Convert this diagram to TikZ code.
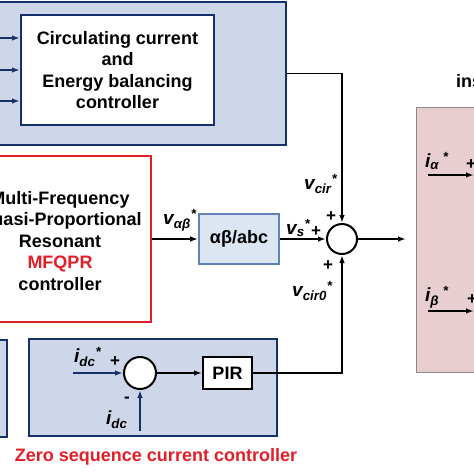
\documentclass[tikz,border=0pt]{standalone}
\usepackage{fontspec}
\setmainfont{Liberation Sans}
\usetikzlibrary{arrows.meta}
\definecolor{navy}{RGB}{22,48,105}
\definecolor{topfill}{RGB}{206,215,233}
\definecolor{abcfill}{RGB}{220,230,243}
\definecolor{abcline}{RGB}{95,130,185}
\definecolor{pinkfill}{RGB}{232,206,209}
\definecolor{pinkline}{RGB}{140,135,135}
\definecolor{redc}{RGB}{226,30,40}
\tikzset{
  outerbox/.style={draw=navy, fill=topfill, line width=2pt, inner sep=0pt},
  whitebox/.style={draw=navy, fill=white, line width=2pt, inner sep=0pt},
  redbox/.style={draw=redc, fill=white, line width=2pt, inner sep=0pt},
  abcbox/.style={draw=abcline, fill=abcfill, line width=1.6pt, inner sep=0pt},
  pirbox/.style={draw=black, fill=white, line width=1.8pt, inner sep=0pt},
  pinkbox/.style={draw=pinkline, fill=pinkfill, line width=1pt, inner sep=0pt},
  sumc/.style={circle, draw=black, fill=white, line width=2pt, inner sep=0pt},
  blk/.style={draw=black, line width=1.8pt, -{Latex[length=8pt,width=5.5pt]}},
  nav/.style={draw=navy, line width=2pt, -{Latex[length=8pt,width=5.5pt]}},
  lbl/.style={inner sep=0pt, anchor=west, font=\bfseries\itshape\fontsize{19}{19}\selectfont},
  sgn/.style={inner sep=0pt, font=\bfseries\fontsize{17}{17}\selectfont},
  btext/.style={inner sep=0pt, align=center, font=\bfseries\fontsize{18}{21.5}\selectfont},
}
\begin{document}
\begin{tikzpicture}[x=1pt,y=-1pt]
\useasboundingbox (0,0) rectangle (474,474);

% top controller
\node[outerbox, minimum width=296pt, minimum height=143pt] (top) at (138,73.5) {};
\node[whitebox, minimum width=193pt, minimum height=110pt] (circ) at (117.5,70) {};
\node[btext] (circt) at (117.5,70) {Circulating current\\and\\Energy balancing\\controller};
\coordinate (in1) at (-2,38);
\coordinate (in2) at (-2,70);
\coordinate (in3) at (-2,101);
\draw[nav] (in1) -- (in1 -| circ.west);
\draw[nav] (in2) -- (in2 -| circ.west);
\draw[nav] (in3) -- (in3 -| circ.west);

% MFQPR
\node[redbox, minimum width=161pt, minimum height=166pt] (mfq) at (70.5,239) {};
\node[btext] (mfqt) at (60,241) {Multi-Frequency\\Quasi-Proportional\\Resonant\\\textcolor{redc}{MFQPR}\\controller};

% alpha beta / abc
\node[abcbox, minimum width=80pt, minimum height=50pt, font=\bfseries\fontsize{18}{18}\selectfont] (abc) at (239,239) {αβ/abc};
\draw[blk] (mfq.east) -- (abc.west);
\node[lbl] (lvab) at (163,220) {v\textsubscript{αβ}\textsuperscript{*}};

% summing junction
\node[sumc, minimum size=30pt] (sum) at (342,239) {};
\draw[blk] (top.east) -| (sum.north);
\draw[blk] (abc.east) -- (sum.west);
\coordinate (out) at (406,239);
\draw[blk] (sum.east) -- (out);
\node[lbl] (lvcir) at (304,184) {v\textsubscript{cir}\textsuperscript{*}};
\node[sgn] (p1) at (331,217) {+};
\node[lbl] (lvs) at (286,228) {v\textsubscript{s}\textsuperscript{*}};
\node[sgn] (p2) at (316,232) {+};
\node[sgn] (p3) at (328,266) {+};
\node[lbl] (lvcir0) at (292,291) {v\textsubscript{cir0}\textsuperscript{*}};

% pink box
\node[pinkbox, minimum width=80pt, minimum height=265pt] (pink) at (456,239.5) {};
\node[anchor=base west, inner sep=0pt, font=\bfseries\fontsize{18}{18}\selectfont] (ins) at (456,87) {ins};
\coordinate (ia0) at (428,175);
\coordinate (ia1) at (474,175);
\draw[blk] (ia0) -- (ia1);
\node[lbl] (lia) at (425,161) {i\textsubscript{α}\textsuperscript{ *}};
\node[sgn] (p4) at (471,165) {+};
\coordinate (ib0) at (428,311);
\coordinate (ib1) at (474,311);
\draw[blk] (ib0) -- (ib1);
\node[lbl] (lib) at (425,297) {i\textsubscript{β}\textsuperscript{ *}};
\node[sgn] (p5) at (472,300) {+};

% bottom
\node[outerbox, minimum width=17pt, minimum height=97pt] (leftb) at (-1.5,388.5) {};
\node[outerbox, minimum width=248pt, minimum height=97pt] (zero) at (153,387.5) {};
\node[sumc, minimum size=32pt] (sum2) at (140,373) {};
\node[pirbox, minimum width=49pt, minimum height=32pt, font=\bfseries\fontsize{18}{18}\selectfont] (pir) at (227.5,373) {PIR};
\coordinate (idcs) at (73,373);
\coordinate (idc) at (140,431);
\draw[nav] (idcs) -- (sum2.west);
\draw[nav] (idc) -- (sum2.south);
\draw[blk] (sum2.east) -- (pir.west);
\draw[blk] (pir.east) -| (sum.south);
\node[lbl] (lidcs) at (74,357) {i\textsubscript{dc}\textsuperscript{*}};
\node[sgn] (p6) at (115,362) {+};
\node[sgn] (m1) at (127,400) {-};
\node[lbl] (lidc) at (106,420) {i\textsubscript{dc}};
\node[inner sep=0pt, text=redc, font=\bfseries\fontsize{18}{18}\selectfont] (zt) at (156,457) {Zero sequence current controller};
\end{tikzpicture}
\end{document}
